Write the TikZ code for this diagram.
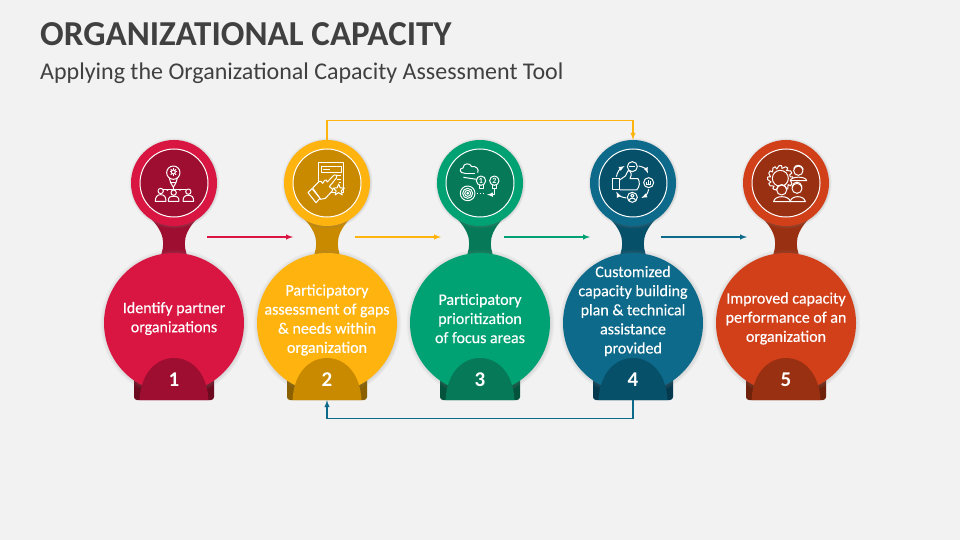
\documentclass[tikz,border=0pt]{standalone}
\usepackage{fontspec}
\usepackage{xcolor}
\usepackage{tikz}
\usetikzlibrary{shadows}
\setmainfont{Carlito}
\newfontfamily\labelfont[FakeBold=0.35]{Carlito}
\definecolor{bggray}{HTML}{F2F2F2}
\definecolor{titlegray}{HTML}{404040}
\definecolor{redmain}{HTML}{D91642}
\definecolor{reddark}{HTML}{9E0E30}
\definecolor{redbase}{HTML}{6E0A20}
\definecolor{yellowmain}{HTML}{FFB30F}
\definecolor{yellowdark}{HTML}{C98A00}
\definecolor{yellowbase}{HTML}{8A6000}
\definecolor{greenmain}{HTML}{00A273}
\definecolor{greendark}{HTML}{067A58}
\definecolor{greenbase}{HTML}{05533D}
\definecolor{tealmain}{HTML}{0D6A8A}
\definecolor{tealdark}{HTML}{07506A}
\definecolor{tealbase}{HTML}{053A4E}
\definecolor{orangemain}{HTML}{D2401A}
\definecolor{orangedark}{HTML}{9A3012}
\definecolor{orangebase}{HTML}{6E220C}
\tikzset{
	softshadow/.style={circular drop shadow={shadow scale=1.06,shadow xshift=0pt,shadow yshift=0pt,opacity=.55}},
	topcircle/.style={circle,minimum size=86pt,inner sep=0pt,softshadow},
	ringcircle/.style={circle,draw=white,line width=1pt,minimum size=68pt,inner sep=0pt},
	bigcircle/.style={circle,minimum size=140pt,inner sep=0pt,softshadow},
	basebox/.style={rectangle,rounded corners=3pt,minimum width=80pt,minimum height=30pt,inner sep=0pt},
	labeltext/.style={text=white,align=center,font=\fontsize{16}{19.1}\selectfont\labelfont},
	numbertext/.style={text=white,font=\fontsize{21}{21}\selectfont\bfseries},
	iconline/.style={draw=white,line width=1pt,line join=round},
	smalldigit/.style={text=white,inner sep=0pt,font=\fontsize{8}{8}\selectfont\bfseries},
	flowline/.style={line width=1.4pt,-latex}
}
\begin{document}
\begin{tikzpicture}[x=1pt,y=-1pt]
	\useasboundingbox (0,0) rectangle (960,540);
	\fill[bggray] (0,0) rectangle (960,540);
	\node[anchor=west,inner sep=0pt,text=titlegray,font=\fontsize{35}{38}\selectfont\bfseries] (title) at (40,34) {ORGANIZATIONAL CAPACITY};
	\node[anchor=west,inner sep=0pt,text=titlegray,font=\fontsize{24}{28}\selectfont] (subtitle) at (40,73) {Applying the Organizational Capacity Assessment Tool};

	\foreach \i/\x/\main/\dark/\base in {1/174/redmain/reddark/redbase,2/327/yellowmain/yellowdark/yellowbase,3/480/greenmain/greendark/greenbase,4/633/tealmain/tealdark/tealbase,5/786/orangemain/orangedark/orangebase}{
		\fill[\dark] (\x-30,212) .. controls (\x-7,232) and (\x-9,245) .. (\x-14,258) -- (\x+14,258) .. controls (\x+9,245) and (\x+7,232) .. (\x+30,212) -- cycle;
		\node[topcircle,fill=\main] (icon\i) at (\x,183) {};
		\node[ringcircle,fill=\dark] (ring\i) at (\x,183) {};
		\node[basebox,fill=\base] (base\i) at (\x,385) {};
		\node[bigcircle,fill=\main] (big\i) at (\x,323) {};
		\fill[\dark] (\x-34.5,400) .. controls (\x-33,372) and (\x-17,358) .. (\x,358) .. controls (\x+17,358) and (\x+33,372) .. (\x+34.5,400) -- cycle;
		\node[numbertext] (number\i) at (\x,380) {\i};
	}

	\foreach \i/\x/\y/\txt in {1/174/318.5/{Identify partner\\organizations},2/327/320/{Participatory\\assessment of gaps\\\& needs within\\organization},3/480/318.5/{Participatory\\prioritization\\of focus areas},4/633/311/{Customized\\capacity building\\plan \& technical\\assistance\\provided},5/786/318.5/{Improved capacity\\performance of an\\organization}}{
		\node[labeltext] (label\i) at (\x,\y) {\txt};
	}

	\foreach \i/\x/\col in {1/207/redmain,2/355/yellowmain,3/504/greenmain,4/661/tealmain}{
		\coordinate (from\i) at (\x,237);
		\coordinate (to\i) at (\x+86,237);
		\draw[flowline,\col] (from\i) -- (to\i);
	}
	\draw[flowline,yellowmain] (icon2.north) -- ++(0,-19) -| (icon4.north);
	\draw[flowline,tealmain] (base4.south) -- ++(0,18) -| (base2.south);

	% icon 1
	\begin{scope}[shift={(130,140)},scale=.3333]
		\draw[iconline] (130,98) circle (20);
		\draw[iconline] (118,114) -- (122,128) -- (138,128) -- (142,114);
		\draw[iconline] (122,128) -- (130,142) -- (138,128);
		\draw[iconline] (130,96) circle (6);
		\foreach \a in {0,45,...,315}
			\draw[iconline] (130,96) ++(\a:7) -- ++(\a:4);
		\foreach \px/\py in {92/153,131/158,175/155}{
			\draw[iconline] (\px,\py) circle (8);
			\draw[iconline] (\px-16,184) .. controls (\px-16,170) and (\px-10,\py+11) .. (\px,\py+11) .. controls (\px+10,\py+11) and (\px+16,170) .. (\px+16,184) -- cycle;
		}
		\draw[iconline] (100,150) -- (167,150);
		\draw[iconline] (130,142) -- (130,150);
		\fill[white] (112,150) circle (3) (150,150) circle (3);
	\end{scope}

	% icon 2
	\begin{scope}[shift={(282,140)},scale=.3333]
		\draw[iconline] (110,68) rectangle (186,158);
		\draw[iconline] (118,80) rectangle (178,98);
		\draw[iconline] (124,88) -- (145,88);
		\draw[iconline] (160,108) -- (178,108);
		\draw[iconline] (165,118) -- (178,118);
		\draw[iconline] (170,128) -- (178,128);
		\draw[iconline,fill=yellowdark] (92,144) -- (112,124) .. controls (115,122) and (119,124) .. (122,130) -- (128,121) .. controls (131,118) and (135,120) .. (136,126) -- (156,105) .. controls (162,101) and (168,108) .. (164,113) -- (142,140) -- (150,146) .. controls (153,149) and (152,152) .. (150,154) -- (130,175) -- (116,178) -- cycle;
		\draw[iconline,fill=yellowdark] (78,158) -- (90,146) -- (114,175) -- (102,188) -- cycle;
		\draw[iconline,fill=yellowdark,shift={(170,150)}] (-90:18) \foreach \a/\r in {-54/8,-18/18,18/8,54/18,90/8,126/18,162/8,198/18,234/8}{ -- (\a:\r)} -- cycle;
	\end{scope}

	% icon 3
	\begin{scope}[shift={(435,140)},scale=.3333]
		\draw[iconline] (90,100) .. controls (72,100) and (72,84) .. (84,84) .. controls (84,68) and (106,68) .. (110,80) .. controls (122,76) and (134,88) .. (128,98);
		\draw[iconline] (90,100) -- (120,100);
		\draw[iconline] (85,112) -- (125,118);
		\foreach \n/\bx in {1/138,2/178}{
			\draw[iconline] (\bx,122) circle (14);
			\draw[iconline] (\bx-6,135) -- (\bx-6,146) -- (\bx+6,146) -- (\bx+6,135);
			\node[smalldigit] (digit\n) at (\bx,122) {\n};
		}
		\foreach \r in {22,15,9,3}
			\draw[iconline] (98,160) circle (\r);
		\draw[iconline,dotted] (125,160) -- (150,160);
		\draw[iconline,-latex] (178,146) -- (178,164) -- (156,164);
	\end{scope}

	% icon 4
	\begin{scope}[shift={(588,140)},scale=.3333]
		\draw[iconline] (73,117) rectangle (95,150);
		\draw[iconline] (95,120) -- (112,108) -- (120,92) .. controls (130,92) and (132,104) .. (126,116) -- (150,116) .. controls (156,125) and (156,140) .. (146,150) -- (95,150);
		\draw[iconline] (133,80) circle (15);
		\draw[iconline] (124,80) -- (142,80);
		\draw[iconline] (182,128) circle (15);
		\draw[iconline] (174,134) -- (190,134) (176,134) -- (176,126) (182,134) -- (182,120) (188,134) -- (188,124);
		\draw[iconline] (133,172) circle (15);
		\draw[iconline] (133,167) circle (5);
		\draw[iconline] (123,182) .. controls (125,172) and (141,172) .. (143,182);
		\draw[iconline,-latex] (85,110) .. controls (88,95) and (98,85) .. (110,78);
		\draw[iconline,-latex] (152,78) .. controls (165,80) and (175,88) .. (180,100);
		\draw[iconline,-latex] (182,148) .. controls (180,160) and (172,168) .. (160,174);
		\draw[iconline,-latex] (115,174) .. controls (100,172) and (90,165) .. (85,155);
	\end{scope}

	% icon 5
	\begin{scope}[shift={(741,140)},scale=.3333]
		\draw[iconline,shift={(118,115)}] (-9:30) \foreach \a in {0,30,...,330}{ -- ({\a-6}:38) -- ({\a+6}:38) -- ({\a+9}:30)} -- cycle;
		\draw[iconline,shift={(118,115)}] (0,0) circle (24);
		\draw[iconline,fill=orangedark] (148,122) .. controls (150,108) and (195,108) .. (197,122) -- cycle;
		\draw[iconline,fill=orangedark] (172,92) circle (14);
		\draw[iconline] (158,86) .. controls (162,72) and (182,72) .. (187,88);
		\draw[iconline,fill=orangedark] (98,185) .. controls (100,165) and (145,165) .. (148,185) -- cycle;
		\draw[iconline,fill=orangedark] (148,185) .. controls (150,165) and (190,165) .. (193,185) -- cycle;
		\draw[iconline,fill=orangedark] (122,150) circle (15);
		\draw[iconline,fill=orangedark] (168,145) circle (15);
		\draw[iconline] (153,140) .. controls (158,122) and (178,122) .. (183,140);
		\draw[iconline] (107,146) .. controls (112,130) and (132,130) .. (137,146);
	\end{scope}
\end{tikzpicture}
\end{document}
